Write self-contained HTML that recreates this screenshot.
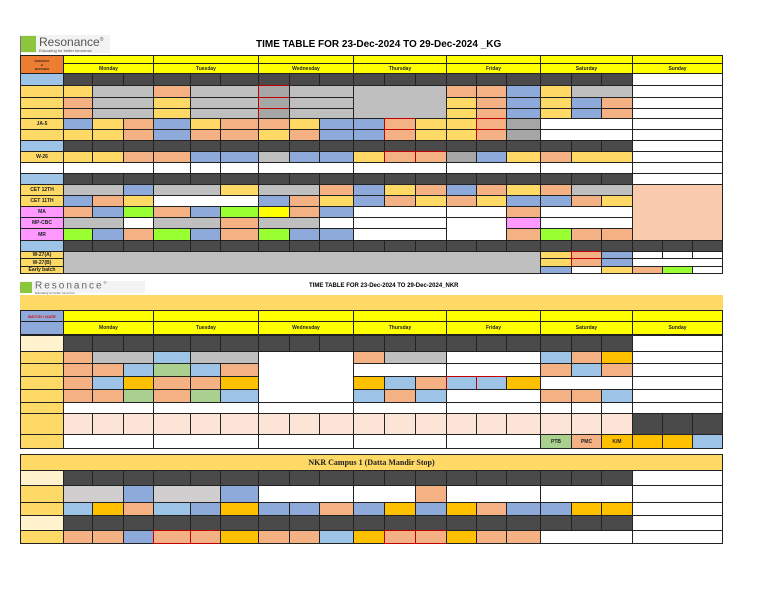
<!DOCTYPE html>
<html><head><meta charset="utf-8"><style>
body{margin:0;width:768px;height:594px;background:#fff;position:relative;overflow:hidden;font-family:"Liberation Sans",sans-serif}
.c{position:absolute;box-sizing:border-box;border:1px solid #222;font-size:5px;font-weight:bold;display:flex;align-items:center;justify-content:center;color:#222;white-space:nowrap;overflow:hidden}
.t{position:absolute;font-weight:bold;white-space:nowrap}
.logo{position:absolute;display:flex;align-items:center}
</style></head><body>
<div class="logo" style="left:20px;top:35px;width:90px;height:18px;background:#f3f3f3">
<div style="width:16px;height:16px;background:#8cc63f;margin-right:3px"></div>
<div><div style="font-size:12px;color:#555;line-height:11px">Resonance<sup style="font-size:5px">®</sup></div><div style="font-size:4px;color:#555">Educating for better tomorrow</div></div></div>
<div class="t" style="left:256px;top:39px;font-size:10px">TIME TABLE FOR 23-Dec-2024 TO 29-Dec-2024 _KG</div>
<div class="logo" style="left:20px;top:281px;width:125px;height:12px;background:#f3f3f3">
<div style="width:12px;height:11px;background:#8cc63f;margin-right:3px"></div>
<div><div style="font-size:10px;color:#666;line-height:8px;letter-spacing:2px">Resonance<sup style="font-size:4px">®</sup></div><div style="font-size:3px;color:#555">Educating for better tomorrow</div></div></div>
<div class="t" style="left:309px;top:283px;font-size:6px">TIME TABLE FOR 23-Dec-2024 TO 29-Dec-2024_NKR</div>
<div style="position:absolute;left:20px;top:273px;width:702px;height:1px;background:#999"></div>
<div style="position:absolute;left:20px;top:36px;width:1px;height:237px;background:#777"></div>
<div id="root"></div>
<script>
const X=[63,92,123,153,190,220,258,289,319,353,384,415,446,476,506,540,571,601,632,662,692,722];
const COL={D:'#4a4a4a',G:'#bfbfbf',H:'#a6a6a6',Y:'#ffd966',O:'#f4b183',B:'#8eaadb',W:'#ffffff',L:'#99ff33',P:'#ff99ff',S:'#ffff00',K:'#f8cbad',Q:'#9dc3e6',A:'#ffc000',E:'#a9d08e',F:'#fce4d6',C:'#fff2cc',N:'#d0cece',R:'#ed7d31'};
const days=['Monday','Tuesday','Wednesday','Thursday','Friday','Saturday','Sunday'];
const topY=[73,85,97,108,118,129,140,151,162,173,184,195,206,217,228,240,251,258,266,273];
const topRows=["D*18 W3","Y G2 O G2 H! G2 G3r3 O O B Y G2 W3","O G2 Y G2 H! G2 _3 Y O B Y B O W3","O G2 Y G2 H! G2 _3 Y O B Y B O W3",
"B Y O B Y O O Y B B O! Y Y O! H W3 W3","Y Y O B O O Y O B B O! Y Y O! H W3 W3","D*18 W3","Y Y O O B B G B B Y O! O! H B Y O Y2 W3",
"W3 W W W W3 W3 W3 W3 W3","D*18 W3","G2 B G2 Y G2 O B Y O B O Y O G2 K3r5","B O Y W3 B O Y B O Y O Y B B O Y _3",
"O B L O B L S O B W3 W2 O W3 _3","G2 W G2 O G2 W W3 W2r2 P W3 _3","L B O L B O L B B W3 _2 O L O O _3","D*21",
"G15r3 Y O! B W W W","_15 Y O! B W3","_15 B W Y O L W"];
const topLabels=["Q","Y","Y","Y","Y:JA-5","Y","Q","Y:W-26","W","Q","Y:CET 12TH","Y:CET 11TH","P:MA","P:MP-CBC","P:MR","Q","Y:W-27(A)","Y:W-27(B)","Y:Early batch"];
const nkrY=[335,351,363,376,389,402,413,434,448];
const nkrRows=["D*18 W3","O G2 Q G2 W3r4 O G2 W3 Q O A W3","O O Q E Q O _3 W3 W3 O Q O W3","O Q A O O A _3 A Q O Q! Q! A W3 W3",
"O O E O E Q _3 Q O Q W3 O O Q W3","W3 W3 W3 W3 W3 W W W W3","F*18 D*3","W3 W3 W3 W3 W3 E:PTB O:PMC A:K/M A A Q"];
const nkrLabels=["C","Y","Y","Y","Y","Y","Y","Y"];
const campY=[470,485,502,515,530,543];
const campRows=["D*18 W3","N2 B N2 B W3 W2 O W3 W3 W3","Q A O Q B A B B O B A B A O B B A A W3","D*18 W3","O O B O! O! A O O Q A O! O! A O O W3 W3"];
const campLabels=["C","Y","Y","C","Y"];
const root=document.getElementById('root');
function cell(x,y,w,h,color,name,txt,red){const d=document.createElement('div');d.className='c';
d.style.cssText=`left:${x}px;top:${y}px;width:${w+1}px;height:${h+1}px;background:${color};`+(red?'border-color:#c00000;':'');
if(txt)d.textContent=txt;


root.appendChild(d);return d;}
function expand(r){return r.split(' ').flatMap(t=>{const m=t.match(/^([A-Z])\*(\d+)$/);return m?Array(+m[2]).fill(m[1]):[t];});}
function grid(Y,rows,labels,prefix){
rows.forEach((r,ri)=>{let c=0;expand(r).forEach(tok=>{const m=tok.match(/^([A-Z_])(\d*)(?:r(\d+))?(!?)(?::(.*))?$/);
const cs=m[2]?+m[2]:1,rs=m[3]?+m[3]:1;
if(m[1]!=='_'){cell(X[c],Y[ri],X[c+cs]-X[c],Y[ri+rs]-Y[ri],COL[m[1]],prefix+'-cell',m[5]||'',m[4]==='!');}
c+=cs;});});
labels.forEach((l,i)=>{const [k,t]=l.split(':');cell(20,Y[i],43,Y[i+1]-Y[i],COL[k],prefix+'-batch-label',t||'');});}
function header(y1,y2,y3,prefix){for(let d=0;d<7;d++){cell(X[d*3],y1,X[d*3+3]-X[d*3],y2-y1,'#ffff00',prefix+'-day-header-top','');
cell(X[d*3],y2,X[d*3+3]-X[d*3],y3-y2,'#ffff00',prefix+'-day-header',days[d]);}}
header(55,63,73,'kg');
const h=cell(20,55,43,18,'#ed7d31','kg-corner-header','');h.innerHTML='DATE/DAY<br>&amp;<br>BATCHES';h.style.fontSize='3px';h.style.textAlign='center';
grid(topY,topRows,topLabels,'kg');
const band=cell(20,295,702,15,'#ffd966','nkr-band','');band.style.border='none';
header(310,321,334,'nkr');
const b1=cell(20,310,43,11,'#8eaadb','nkr-corner-header','BATCH / DATE');b1.style.color='#e00000';b1.style.fontSize='4px';
cell(20,321,43,13,'#8eaadb','nkr-corner-sub','');
grid(nkrY,nkrRows,nkrLabels,'nkr');
const b2=cell(20,454,702,16,'#ffd966','nkr-campus-band','NKR Campus 1 (Datta Mandir Stop)');b2.style.fontSize='8px';b2.style.fontFamily='"Liberation Serif",serif';
grid(campY,campRows,campLabels,'campus');
</script>
</body></html>
